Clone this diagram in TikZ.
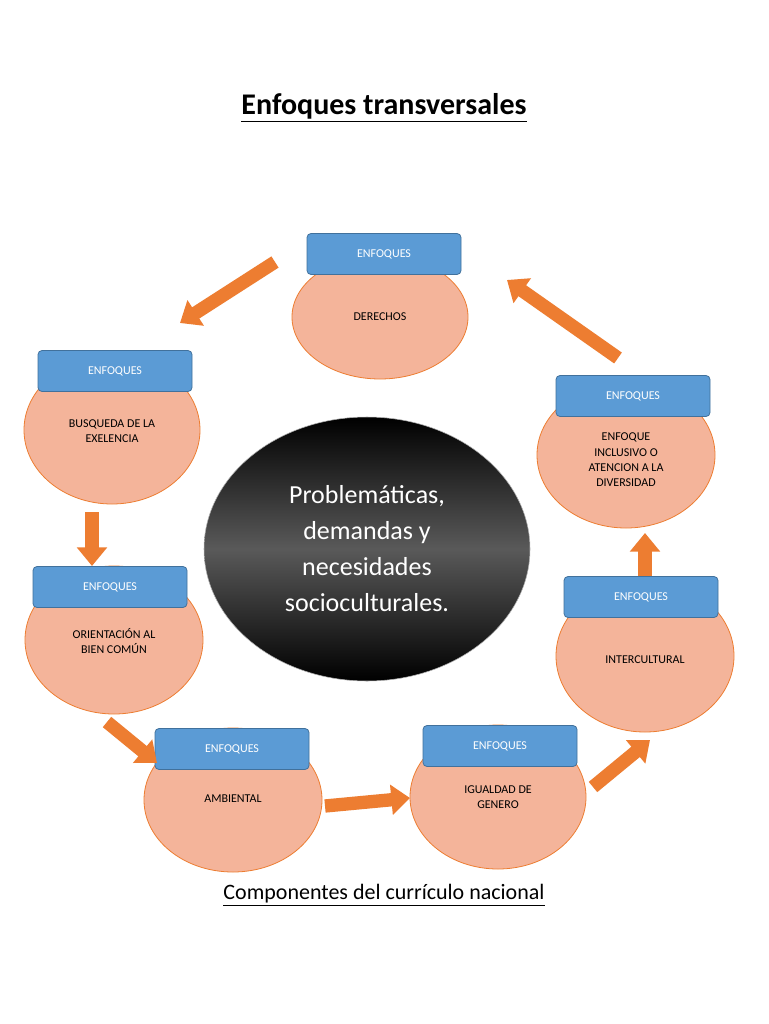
\documentclass[tikz,border=0pt]{standalone}
\usepackage{fontspec}
\setmainfont{Carlito}
\usetikzlibrary{arrows.meta,shapes.geometric}
\definecolor{salmon}{HTML}{F4B49A}
\definecolor{orng}{HTML}{ED7D31}
\definecolor{blu}{HTML}{5B9BD5}
\definecolor{bluedge}{HTML}{41719C}
\tikzset{
 bubble/.style={ellipse,draw=orng,line width=0.6pt,fill=salmon,inner sep=0pt},
 hdr/.style={draw=bluedge,fill=blu,rounded corners=3pt,line width=0.6pt,text=white,font=\fontsize{9}{11}\selectfont,inner sep=0pt},
 lbl/.style={font=\fontsize{9}{11.5}\selectfont,align=center},
 barrow/.style={draw=orng!80!black,line width=0.5pt,fill=orng},
 flow/.style={orng,line width=10pt,-{Triangle[length=14pt,width=22pt]}}
}
\begin{document}
\begin{tikzpicture}[x=0.75pt,y=-0.75pt]
\useasboundingbox[fill=white] (0,0) rectangle (768,1024);
\node[font=\bfseries\fontsize{22.5}{26}\selectfont] (title) at (384,108) {\underline{Enfoques transversales}};
\node[font=\fontsize{16.5}{20}\selectfont] (foot) at (384,895) {\underline{Componentes del currículo nacional}};
% center
\node[ellipse,minimum width=326*0.75pt,minimum height=264*0.75pt,draw=gray!60,top color=black,bottom color=black,middle color=gray!70!black,text=white,align=center,font=\fontsize{19.5}{27}\selectfont] (c) at (367,549) {Problemáticas,\\demandas y\\necesidades\\socioculturales.};
% bubbles
\newcommand{\bub}[8]{%
 \node[bubble,minimum width=#4*1.5pt,minimum height=#5*1.5pt] (#1) at (#2,#3) {};
 \node[lbl] (#1t) at (#2,#8) {#6};
 \node[hdr,minimum width=154*0.75pt,minimum height=41*0.75pt] (#1h) at (#7) {ENFOQUES};}
\bub{der}{380}{317}{88}{62}{DERECHOS}{384,254}{317}
\bub{bus}{112}{430}{88}{74}{BUSQUEDA DE LA\\EXELENCIA}{115,371}{431}
\bub{ori}{114}{640}{89}{74}{ORIENTACIÓN AL\\BIEN COMÚN}{110,587}{641}
\bub{amb}{233}{800}{89}{72}{AMBIENTAL}{232,749}{799}
\bub{igu}{498}{797}{88}{72}{IGUALDAD DE\\GENERO}{500,746}{797}
\bub{int}{645}{656}{89}{76}{INTERCULTURAL}{641,597}{660}
\bub{inc}{626}{455}{89}{73}{ENFOQUE\\INCLUSIVO O\\ATENCION A LA\\DIVERSIDAD}{633,396}{460}
% arrows
\coordinate (a1) at (275,262); \coordinate (b1) at (180,323);
\coordinate (a2) at (92,512); \coordinate (b2) at (92,566);
\coordinate (a3) at (107,722); \coordinate (b3) at (157,763);
\coordinate (a4) at (325,806); \coordinate (b4) at (410,798);
\coordinate (a5) at (593,787); \coordinate (b5) at (650,740);
\coordinate (a6) at (645,576); \coordinate (b6) at (645,533);
\coordinate (a7) at (618,358); \coordinate (b7) at (507,280);
\foreach \i in {1,...,7}{\draw[flow] (a\i) -- (b\i);}
\end{tikzpicture}
\end{document}
